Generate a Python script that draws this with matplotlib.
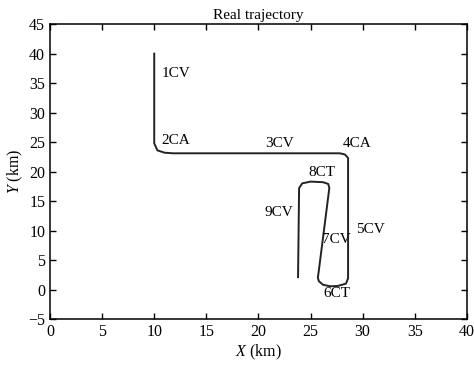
import matplotlib
matplotlib.use('Agg')
import matplotlib.pyplot as plt
from matplotlib.ticker import MultipleLocator

plt.rcParams['font.family'] = ['Liberation Serif', 'DejaVu Serif']
plt.rcParams['mathtext.fontset'] = 'custom'
plt.rcParams['mathtext.it'] = 'Liberation Serif:italic'
plt.rcParams['mathtext.rm'] = 'Liberation Serif'
plt.rcParams['xtick.direction'] = 'in'
plt.rcParams['ytick.direction'] = 'in'

# trajectory waypoints (km)
traj_x = [10.0, 10.0, 10.3, 11.0, 11.8, 27.8, 28.3, 28.6, 28.6, 28.6, 28.4, 27.6, 26.9,
          26.2, 25.8, 25.7, 25.8, 26.8, 26.7, 26.2, 25.0, 24.2, 23.9, 23.8]
traj_y = [40.0, 24.8, 23.6, 23.2, 23.1, 23.1, 22.9, 22.3, 21.6, 1.9, 1.0, 0.6, 0.55,
          0.8, 1.4, 2.0, 3.3, 17.2, 17.9, 18.2, 18.3, 18.0, 17.2, 2.1]

# segment labels
seg_labels = ['1CV', '2CA', '3CV', '4CA', '5CV', '6CT', '7CV', '8CT', '9CV']
seg_x = [10.7, 10.7, 20.6, 28.1, 29.35, 26.2, 26.1, 24.8, 20.6]
seg_y = [36.7, 25.3, 24.8, 24.8, 10.1, -0.75, 8.4, 19.9, 13.0]

fig = plt.figure(figsize=(4.74, 3.66), dpi=100)
ax = fig.add_axes([0.1055, 0.1284, 0.8795, 0.8056])

ax.plot(traj_x, traj_y, color='#222222', linewidth=1.4)
for lab, tx, ty in zip(seg_labels, seg_x, seg_y):
    ax.text(tx, ty, lab, fontsize=11, va='center', ha='left')

ax.set_xlim(0, 40)
ax.set_ylim(-5, 45)
ax.xaxis.set_major_locator(MultipleLocator(5))
ax.yaxis.set_major_locator(MultipleLocator(5))
ax.tick_params(top=True, right=True, labelsize=11.5, length=4, width=1)
for s in ax.spines.values():
    s.set_linewidth(1.1)

ax.set_title('Real trajectory', fontsize=11, pad=4)
ax.set_xlabel('$X$ (km)', fontsize=11.5, labelpad=2)
ax.set_ylabel('$Y$ (km)', fontsize=11.5, labelpad=2)

fig.savefig('out.png', dpi=100)
